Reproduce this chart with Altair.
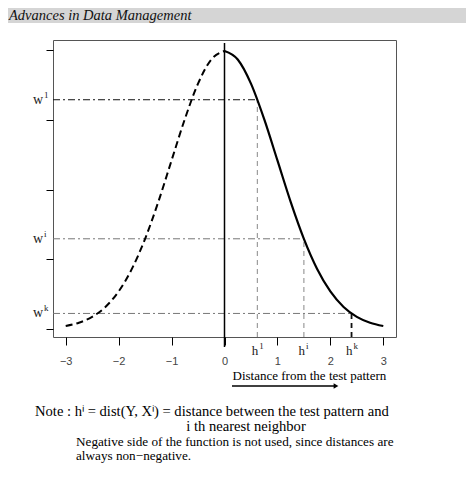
import altair as alt
import pandas as pd

# ---- data ----
curve_x = [-3.0, -2.75, -2.5, -2.25, -2.0, -1.75, -1.5, -1.25, -1.0, -0.75, -0.5, -0.25, 0.0,
           0.25, 0.5, 0.75, 1.0, 1.25, 1.5, 1.75, 2.0, 2.25, 2.5, 2.75, 3.0]
curve_y = [0.0044, 0.0091, 0.0175, 0.0317, 0.0540, 0.0863, 0.1295, 0.1826, 0.2420, 0.3011, 0.3521, 0.3867, 0.3989,
           0.3867, 0.3521, 0.3011, 0.2420, 0.1826, 0.1295, 0.0863, 0.0540, 0.0317, 0.0175, 0.0091, 0.0044]

h_vals = [0.62, 1.50, 2.40]
w_vals = [0.329, 0.1295, 0.0224]
sup_labels = ["1", "i", "k"]

x_ticks = [-3, -2, -1, 0, 1, 2, 3]
y_ticks = [0.0, 0.1, 0.2, 0.3, 0.4]

X_DOMAIN = [-3.24, 3.24]
Y_DOMAIN = [-0.0114, 0.4147]

header_text = "Advances in Data Management"
x_title = "Distance from the test pattern"
note_line1 = "Note : h\u2071 = dist(Y, X\u2071) = distance between the test pattern and"
note_line2 = "i th nearest neighbor"
note_line3 = "Negative side of the function is not  used, since distances are"
note_line4 = "always non\u2212negative."

SERIF = "Liberation Serif"
SANS = "Liberation Sans"

curve = pd.DataFrame({"x": curve_x, "y": curve_y})
left = curve[curve["x"] <= 0]
right = curve[curve["x"] >= 0]
marks = pd.DataFrame({"h": h_vals, "w": w_vals, "sup": sup_labels,
                      "x0": [X_DOMAIN[0]] * 3, "y0": [Y_DOMAIN[0]] * 3})
zero = pd.DataFrame({"x": [0.0]})
one = pd.DataFrame({"k": [0]})

XS = alt.Scale(domain=X_DOMAIN, nice=False, zero=False)
YS = alt.Scale(domain=Y_DOMAIN, nice=False, zero=False)
XA = alt.Axis(values=x_ticks, title=x_title, grid=False, domain=False, tickSize=8,
              tickColor="black", labelPadding=10, labelFont=SANS, labelFontSize=11,
              labelColor="#444", format="d", labelOverlap=False, titleFont=SERIF, titleFontSize=13,
              titleFontWeight="normal", titleColor="black", titleX=179, titleY=42,
              titleAlign="left", titleAnchor="start", titleBaseline="alphabetic")
YA = alt.Axis(values=y_ticks, labels=False, title=None, grid=False, domain=False,
              tickSize=7, tickColor="black")


def xenc(f):
    return alt.X(f, type="quantitative", scale=XS, axis=XA)


def yenc(f):
    return alt.Y(f, type="quantitative", scale=YS, axis=YA)


left_line = alt.Chart(left).mark_line(color="black", strokeWidth=2, strokeDash=[7, 4],
                                      interpolate="monotone").encode(x=xenc("x"), y=yenc("y"))
right_line = alt.Chart(right).mark_line(color="black", strokeWidth=2.2,
                                        interpolate="monotone").encode(x=xenc("x"), y=yenc("y"))

h_colors = ["#111111", "#777777", "#777777"]
v_colors = ["#888888", "#888888", "#111111"]
v_widths = [1, 1, 1.8]

layers = []
for i in range(3):
    sub = marks.iloc[[i]]
    layers.append(alt.Chart(sub).mark_rule(color=h_colors[i], strokeWidth=1,
                                           strokeDash=[7, 3, 2, 3]).encode(
        x=xenc("x0"), x2=alt.X2("h"), y=yenc("w")))
    layers.append(alt.Chart(sub).mark_rule(color=v_colors[i], strokeWidth=v_widths[i],
                                           strokeDash=[5, 4]).encode(
        x=xenc("h"), y=yenc("y0"), y2=alt.Y2("w")))

zero_line = alt.Chart(zero).mark_rule(color="black", strokeWidth=1.5).encode(
    x=xenc("x"), y=alt.value(3), y2=alt.value(307))

w_text = alt.Chart(marks).mark_text(text="w", font=SERIF, fontSize=14, align="right",
                                    baseline="middle", color="#222").encode(
    x=alt.value(-10), y=yenc("w"))
w_sup = alt.Chart(marks).mark_text(font=SERIF, fontSize=9, align="left", baseline="middle",
                                   dy=-5, color="#222").encode(
    x=alt.value(-9), y=yenc("w"), text="sup:N")
h_text = alt.Chart(marks).mark_text(text="h", font=SERIF, fontSize=13, align="right",
                                    baseline="alphabetic", dx=1, color="#222").encode(
    x=xenc("h"), y=alt.value(315))
h_sup = alt.Chart(marks).mark_text(font=SERIF, fontSize=9, align="left", baseline="alphabetic",
                                   dx=2, color="#222").encode(
    x=xenc("h"), y=alt.value(309), text="sup:N")

arrow = alt.Chart(one).mark_rule(color="black", strokeWidth=1.5).encode(
    x=alt.value(179), x2=alt.value(281), y=alt.value(346))
arrow_head = alt.Chart(one).mark_point(shape="triangle-right", filled=True, size=30,
                                       color="black", opacity=1).encode(
    x=alt.value(283), y=alt.value(346))

header_band = alt.Chart(one).mark_rect(color="#d5d5d5").encode(
    x=alt.value(-45), x2=alt.value(413), y=alt.value(-32), y2=alt.value(-17))
header = alt.Chart(one).mark_text(text=header_text, font=SERIF, fontStyle="italic",
                                  fontSize=14.5, align="left", baseline="alphabetic",
                                  color="#111").encode(x=alt.value(-44), y=alt.value(-20))

n1 = alt.Chart(one).mark_text(text=note_line1, font=SERIF, fontSize=14.6, align="left",
                              baseline="alphabetic", color="black").encode(
    x=alt.value(-18), y=alt.value(376))
n2 = alt.Chart(one).mark_text(text=note_line2, font=SERIF, fontSize=14.6, align="center",
                              baseline="alphabetic", color="black").encode(
    x=alt.value(193), y=alt.value(391))
n3 = alt.Chart(one).mark_text(text=note_line3, font=SERIF, fontSize=13.2, align="left",
                              baseline="alphabetic", color="black").encode(
    x=alt.value(23), y=alt.value(406))
n4 = alt.Chart(one).mark_text(text=note_line4, font=SERIF, fontSize=13.2, align="left",
                              baseline="alphabetic", color="black").encode(
    x=alt.value(23), y=alt.value(420))

chart = alt.layer(
    header_band, header, *layers, zero_line, left_line, right_line,
    w_text, w_sup, h_text, h_sup, arrow, arrow_head, n1, n2, n3, n4
).properties(
    width=343, height=297,
    autosize=alt.AutoSizeParams(type="none"),
    padding={"left": 45, "top": 32, "right": 70, "bottom": 130},
    background="white",
).configure_view(stroke="#555555", strokeWidth=1)

chart.save("out.html", embed_options={"renderer": "svg", "actions": False})
